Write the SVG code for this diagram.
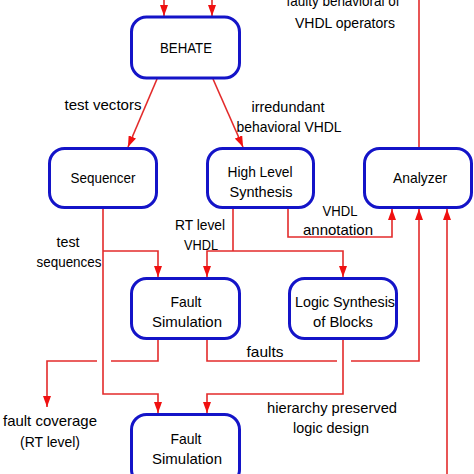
<svg xmlns="http://www.w3.org/2000/svg" width="474" height="474" viewBox="0 0 474 474">
<style>
.box{fill:#fff;stroke:#1414c8;stroke-width:3}
.ln{fill:none;stroke:#e32b2b;stroke-width:1.6}
.ar{marker-end:url(#ah)}
text{font-family:"Liberation Sans",Arial,sans-serif;font-size:15px;fill:#000;text-anchor:middle}
.l{text-anchor:start}
</style>
<defs>
<marker id="ah" markerUnits="userSpaceOnUse" markerWidth="11" markerHeight="8" refX="11" refY="4" orient="auto">
<path d="M0,0 L11,4 L0,8 z" fill="#f01010"/>
</marker>
</defs>
<rect width="474" height="474" fill="#fff"/>
<g id="connectors">
<path class="ln ar" d="M164,0 V16"/>
<path class="ln ar" d="M212,0 V16"/>
<path class="ln ar" d="M157,79 L128,147"/>
<path class="ln ar" d="M213,79 L243,147"/>
<path class="ln" d="M419,147 V0"/>
<path class="ln ar" d="M103,209 V394 H158 V413"/>
<path class="ln ar" d="M103,251 H158 V277"/>
<path class="ln" d="M233,209 V251"/>
<path class="ln ar" d="M233,251 H207 V277"/>
<path class="ln ar" d="M233,251 H343 V277"/>
<path class="ln ar" d="M288,209 V237 H392 V209"/>
<path class="ln ar" d="M158,340 V361 H111 M97,361 H47 V407"/>
<path class="ln ar" d="M207,340 V361 H337 M351,361 H419 V209"/>
<path class="ln ar" d="M343,340 V394 H207 V413"/>
<path class="ln ar" d="M447,474 V209"/>
</g>
<g id="n_behate"><rect class="box" x="131.5" y="17" width="108" height="61" rx="15"/><text x="186" y="53" textLength="52" lengthAdjust="spacingAndGlyphs">BEHATE</text></g>
<g id="n_sequencer"><rect class="box" x="49.5" y="148.5" width="107" height="59" rx="15"/><text x="103" y="183" textLength="65" lengthAdjust="spacingAndGlyphs">Sequencer</text></g>
<g id="n_hls"><rect class="box" x="207.5" y="148.5" width="106" height="59" rx="15"/><text x="260" y="177" textLength="65" lengthAdjust="spacingAndGlyphs">High Level</text><text x="261" y="197" textLength="63" lengthAdjust="spacingAndGlyphs">Synthesis</text></g>
<g id="n_analyzer"><rect class="box" x="364.5" y="148.5" width="107" height="59" rx="15"/><text x="420" y="183" textLength="54" lengthAdjust="spacingAndGlyphs">Analyzer</text></g>
<g id="n_faultsim1"><rect class="box" x="131.5" y="278.5" width="108" height="60" rx="15"/><text x="186" y="307" textLength="31" lengthAdjust="spacingAndGlyphs">Fault</text><text x="187" y="327" textLength="70" lengthAdjust="spacingAndGlyphs">Simulation</text></g>
<g id="n_logicsyn"><rect class="box" x="289.5" y="278.5" width="107" height="60" rx="15"/><text x="345" y="307" textLength="100" lengthAdjust="spacingAndGlyphs">Logic Synthesis</text><text x="343" y="327" textLength="60" lengthAdjust="spacingAndGlyphs">of Blocks</text></g>
<g id="n_faultsim2"><rect class="box" x="131.5" y="414.5" width="108" height="70" rx="15"/><text x="186" y="444" textLength="31" lengthAdjust="spacingAndGlyphs">Fault</text><text x="187" y="464" textLength="70" lengthAdjust="spacingAndGlyphs">Simulation</text></g>
<g id="labels">
<text x="343" y="6" textLength="113" lengthAdjust="spacingAndGlyphs">faulty behavioral of</text>
<text x="345" y="28" textLength="100" lengthAdjust="spacingAndGlyphs">VHDL operators</text>
<text x="103" y="110" textLength="77" lengthAdjust="spacingAndGlyphs">test vectors</text>
<text x="288" y="112" textLength="73" lengthAdjust="spacingAndGlyphs">irredundant</text>
<text x="289" y="132" textLength="105" lengthAdjust="spacingAndGlyphs">behavioral VHDL</text>
<text x="340" y="216" textLength="35" lengthAdjust="spacingAndGlyphs">VHDL</text>
<text x="338" y="235" textLength="70" lengthAdjust="spacingAndGlyphs">annotation</text>
<text x="200" y="230" textLength="50" lengthAdjust="spacingAndGlyphs">RT level</text>
<text x="201" y="250" textLength="34" lengthAdjust="spacingAndGlyphs">VHDL</text>
<text x="68" y="247" textLength="23" lengthAdjust="spacingAndGlyphs">test</text>
<text x="69" y="267" textLength="65" lengthAdjust="spacingAndGlyphs">sequences</text>
<text x="265" y="357" textLength="37" lengthAdjust="spacingAndGlyphs">faults</text>
<text x="50" y="426" textLength="94" lengthAdjust="spacingAndGlyphs">fault coverage</text>
<text x="50" y="447" textLength="60" lengthAdjust="spacingAndGlyphs">(RT level)</text>
<text x="332" y="413" textLength="130" lengthAdjust="spacingAndGlyphs">hierarchy preserved</text>
<text x="331" y="433" textLength="76" lengthAdjust="spacingAndGlyphs">logic design</text>
</g>
</svg>
